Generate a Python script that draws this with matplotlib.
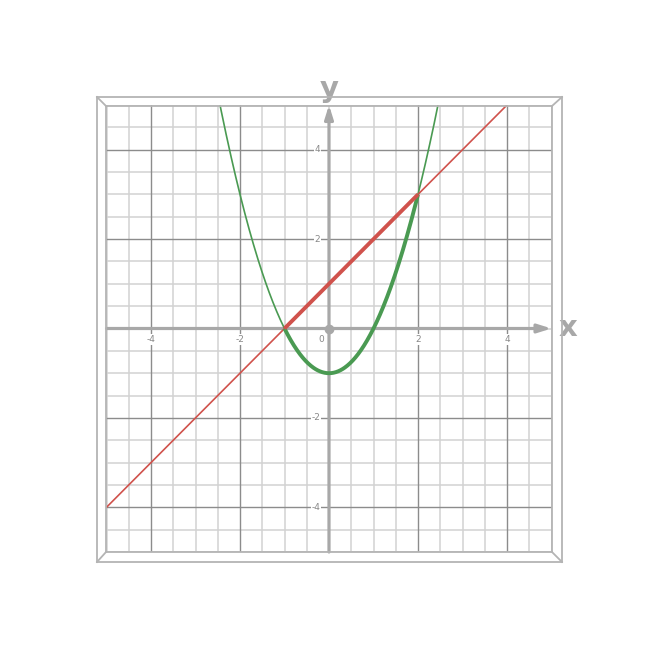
import matplotlib
matplotlib.use("Agg")
import matplotlib.pyplot as plt
from matplotlib.lines import Line2D
import numpy as np

# dados do gráfico
x_range = [-5, 5]
y_range = [-5, 5]
parabola_coef = [1, 0, -1]   # y = x^2 - 1
reta_coef = [1, 1]           # y = x + 1
intersecoes = [-1, 2]
tick_vals = [-4, -2, 2, 4]
tick_labels = ["-4", "-2", "2", "4"]

cinza = "#a8a8a8"
vermelho = "#d0524c"
verde = "#4a9a52"

fig = plt.figure(figsize=(6.59, 6.59), dpi=100)
ax = fig.add_axes([106.5 / 659, 107 / 659, 445 / 659, 447 / 659])
ax.set_xlim(*x_range)
ax.set_ylim(*y_range)
ax.axis("off")

# grade
for v in np.arange(x_range[0], x_range[1] + 0.01, 0.5):
    major = abs(v % 2) < 1e-9 and v != 0
    cor = "#8c8c8c" if major else "#d2d2d2"
    lw = 1.0 if major else 1.1
    ax.axvline(v, color=cor, lw=lw, zorder=1 if not major else 2)
    ax.axhline(v, color=cor, lw=lw, zorder=1 if not major else 2)

# eixos
seta = dict(arrowstyle="-|>,head_length=0.8,head_width=0.25", color=cinza, lw=2.3,
            shrinkA=0, shrinkB=0)
ax.annotate("", xy=(x_range[1], 0), xytext=(x_range[0], 0), arrowprops=seta, zorder=3)
ax.annotate("", xy=(0, y_range[1]), xytext=(0, y_range[0]), arrowprops=seta, zorder=3)
ax.plot([0], [0], "o", color=cinza, ms=6, zorder=4)

ax.text(5.37, 0, "x", color=cinza, fontsize=21, fontweight="bold", ha="center", va="center")
ax.text(0, 5.35, "y", color=cinza, fontsize=21, fontweight="bold", ha="center", va="center")

# rótulos dos ticks
bbox = dict(facecolor="white", edgecolor="none", pad=0.5)
for v, t in zip(tick_vals, tick_labels):
    ax.text(v, -0.25, t, color="#888888", fontsize=6.5, ha="center", va="center", bbox=bbox, zorder=3)
    ax.text(-0.2, v, t, color="#888888", fontsize=6.5, ha="right", va="center", bbox=bbox, zorder=3)
ax.text(-0.17, -0.25, "0", color="#888888", fontsize=6.5, ha="center", va="center", bbox=bbox, zorder=3)

# curvas
xs = np.linspace(x_range[0], x_range[1], 600)
ax.plot(xs, np.polyval(parabola_coef, xs), color=verde, lw=1.2, zorder=5)
ax.plot(xs, np.polyval(reta_coef, xs), color=vermelho, lw=1.2, zorder=5)
xi = np.linspace(intersecoes[0], intersecoes[1], 300)
ax.plot(xi, np.polyval(parabola_coef, xi), color=verde, lw=2.8, zorder=6, solid_capstyle="butt")
ax.plot(xi, np.polyval(reta_coef, xi), color=vermelho, lw=2.8, zorder=6, solid_capstyle="butt")

# moldura
def px(x, y):
    return x / 659, 1 - y / 659

o0, o1 = 97, 562
i0, i1 = 106, 552
moldura = "#b4b4b4"
for (a, b) in [((o0, o0), (o1, o0)), ((o1, o0), (o1, o1)), ((o1, o1), (o0, o1)), ((o0, o1), (o0, o0)),
               ((i0, i0), (i1, i0)), ((i1, i0), (i1, i1)), ((i1, i1), (i0, i1)), ((i0, i1), (i0, i0)),
               ((o0, o0), (i0, i0)), ((o1, o0), (i1, i0)), ((o1, o1), (i1, i1)), ((o0, o1), (i0, i1))]:
    p, q = px(*a), px(*b)
    fig.add_artist(Line2D([p[0], q[0]], [p[1], q[1]], color=moldura, lw=1.3))

fig.savefig("out.png", dpi=100, facecolor="white")
